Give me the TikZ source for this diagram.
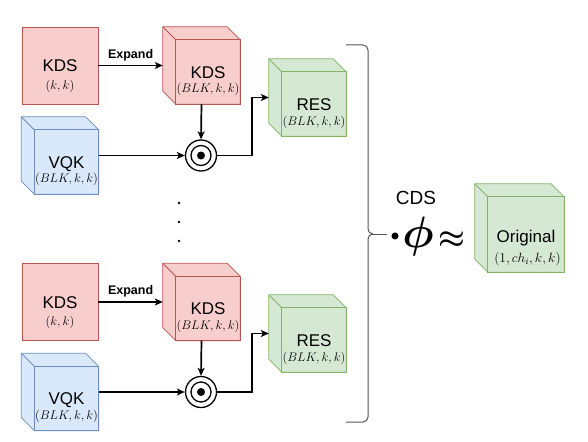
\RequirePackage{fix-cm}
\documentclass[tikz,border=0pt]{standalone}
\usepackage{fontspec}
\setmainfont{Liberation Sans}
\usetikzlibrary{arrows.meta}
\definecolor{redF}{HTML}{F8CECC}
\definecolor{redD}{HTML}{B85450}
\definecolor{bluF}{HTML}{DAE8FC}
\definecolor{bluD}{HTML}{6C8EBF}
\definecolor{grnF}{HTML}{D5E8D4}
\definecolor{grnD}{HTML}{82B366}
\definecolor{braceC}{HTML}{555555}
\newcommand{\phiexpr}{\hbox{\mathversion{bold}\fontsize{44}{50}\selectfont$\cdot$\hspace{0pt}$\phi$\hspace{5pt}\fontsize{30}{36}\selectfont$\approx$}}
\tikzset{
  box/.style={inner sep=0, minimum width=77pt, minimum height=77pt},
  lbl/.style={font=\fontsize{17}{20}\selectfont, inner sep=0, text depth=0pt},
  sub/.style={font=\fontsize{12.5}{14}\selectfont, inner sep=0},
  arr/.style={line width=1.7pt, -{Stealth[length=8pt,width=7pt,inset=2pt]}},
  odot/.style={circle, draw, line width=1.3pt, minimum size=31pt, inner sep=0},
}
\newcommand{\drawcube}[3]{%
  \filldraw[fill=#2, draw=#3, line width=0.8pt, line join=round]
    (#1.north west) -- ([xshift=-13pt]#1.north east) -- ([yshift=-13pt]#1.north east)
    -- (#1.south east) -- ([xshift=13pt]#1.south west) -- ([yshift=13pt]#1.south west) -- cycle;
  \draw[draw=#3, line width=0.8pt] ([xshift=13pt,yshift=-13pt]#1.north west) rectangle (#1.south east);
  \draw[draw=#3, line width=0.8pt] (#1.north west) -- ([xshift=13pt,yshift=-13pt]#1.north west);
}
\newcommand{\drawodot}[1]{%
  \draw[line width=1.3pt] (#1.center) circle (10pt);
  \fill (#1.center) circle (4pt);
}
\begin{document}
\begin{tikzpicture}[x=1pt,y=-1pt]
\useasboundingbox (0,0) rectangle (588,441);

% ---------- top block ----------
\node[box, minimum width=76pt, fill=redF, draw=redD, line width=0.8pt] (kdsA) at (60,65.5) {};
\node[lbl] at ([yshift=-0.5pt]kdsA.center) {KDS};
\node[sub] at ([yshift=-20.5pt]kdsA.center) {$(k,k)$};

\node[box] (kdscA) at (201.5,65.5) {};
\drawcube{kdscA}{redF}{redD}
\node[lbl] at ([xshift=6.5pt,yshift=-7pt]kdscA.center) {KDS};
\node[sub] at ([xshift=6.5pt,yshift=-24pt]kdscA.center) {$(BLK,k,k)$};

\node[box] (vqkA) at (60,155.5) {};
\drawcube{vqkA}{bluF}{bluD}
\node[lbl] at ([xshift=6.5pt,yshift=-7pt]vqkA.center) {VQK};
\node[sub] at ([xshift=6.5pt,yshift=-24pt]vqkA.center) {$(BLK,k,k)$};

\node[odot] (circA) at (201,155.5) {};
\drawodot{circA}

\node[box] (resA) at (307.5,97.5) {};
\drawcube{resA}{grnF}{grnD}
\node[lbl] at ([xshift=6.5pt,yshift=-7pt]resA.center) {RES};
\node[sub] at ([xshift=6.5pt,yshift=-25pt]resA.center) {$(BLK,k,k)$};

\draw[arr] (kdsA.east) -- node[above=4pt, inner sep=0, font=\fontsize{12.5}{14}\selectfont\bfseries] {Expand} (kdscA.west);
\draw[arr] (kdscA.south) -- (circA.north);
\draw[arr] (vqkA.east) -- (circA.west);
\draw[arr] (circA.east) -- ++(34.5,0) |- (resA.west);

% ---------- dots ----------
\fill (179,203) circle (1.3pt);
\fill (179,222) circle (1.3pt);
\fill (179,241) circle (1.3pt);

% ---------- bottom block ----------
\node[box, minimum width=76pt, fill=redF, draw=redD, line width=0.8pt] (kdsB) at (60,302) {};
\node[lbl] at ([yshift=-0.5pt]kdsB.center) {KDS};
\node[sub] at ([yshift=-20.5pt]kdsB.center) {$(k,k)$};

\node[box] (kdscB) at (201.5,302) {};
\drawcube{kdscB}{redF}{redD}
\node[lbl] at ([xshift=6.5pt,yshift=-7pt]kdscB.center) {KDS};
\node[sub] at ([xshift=6.5pt,yshift=-24pt]kdscB.center) {$(BLK,k,k)$};

\node[box] (vqkB) at (60,392) {};
\drawcube{vqkB}{bluF}{bluD}
\node[lbl] at ([xshift=6.5pt,yshift=-7pt]vqkB.center) {VQK};
\node[sub] at ([xshift=6.5pt,yshift=-24pt]vqkB.center) {$(BLK,k,k)$};

\node[odot] (circB) at (201,392) {};
\drawodot{circB}

\node[box] (resB) at (307.5,333.5) {};
\drawcube{resB}{grnF}{grnD}
\node[lbl] at ([xshift=6.5pt,yshift=-7pt]resB.center) {RES};
\node[sub] at ([xshift=6.5pt,yshift=-25pt]resB.center) {$(BLK,k,k)$};

\draw[arr] (kdsB.east) -- node[above=4pt, inner sep=0, font=\fontsize{12.5}{14}\selectfont\bfseries] {Expand} (kdscB.west);
\draw[arr] (kdscB.south) -- (circB.north);
\draw[arr] (vqkB.east) -- (circB.west);
\draw[arr] (circB.east) -- ++(34.5,0) |- (resB.west);

% ---------- brace ----------
\coordinate (btip) at (373,234);
\draw[braceC, line width=1pt, line join=round]
  (346,45) -- (363,45) to[out=0,in=90] (368,50) -- (368,229) to[out=-90,in=180] (btip)
  to[out=180,in=90] (368,239) -- (368,417) to[out=-90,in=0] (363,422) -- (346,422);
\coordinate (bend) at (387,234);
\draw[braceC, line width=1pt] (btip) -- (bend);

% ---------- formula ----------
\node[font=\fontsize{19}{22}\selectfont, inner sep=0] (cds) at (416,198) {CDS};
\node[inner sep=0, anchor=west] (phi) at (388,236) {\phiexpr};

% ---------- original ----------
\node[box, minimum width=89pt, minimum height=88pt] (orig) at (519.5,228) {};
\drawcube{orig}{grnF}{grnD}
\node[lbl] at ([xshift=6.5pt,yshift=-8pt]orig.center) {Original};
\node[sub, font=\fontsize{13.5}{15}\selectfont] at ([xshift=8pt,yshift=-31pt]orig.center) {$(1,ch_i,k,k)$};
\end{tikzpicture}
\end{document}
